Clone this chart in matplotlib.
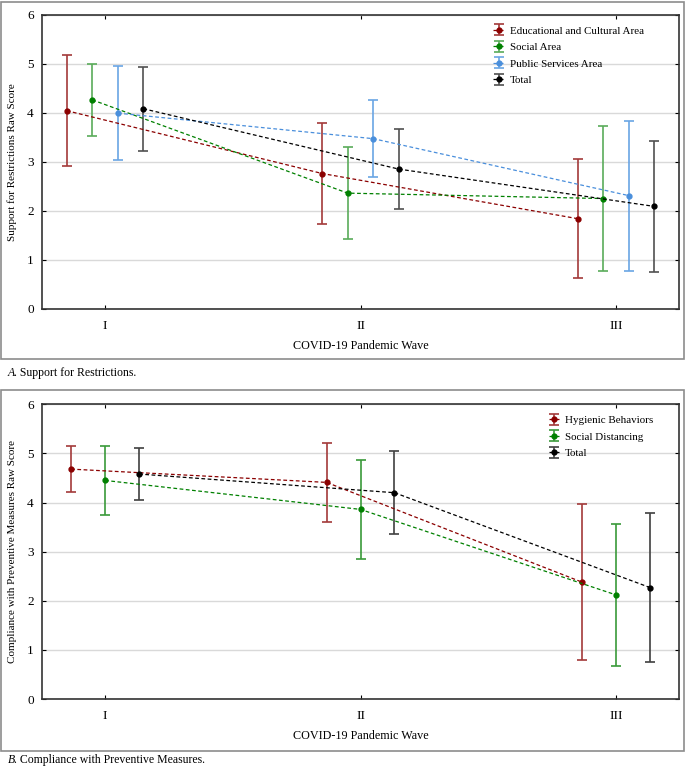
import numpy as np
import matplotlib.pyplot as plt
from matplotlib.patches import Rectangle

plt.rcParams['font.family'] = ['Liberation Serif', 'DejaVu Serif']

waves = ["I", "II", "III"]

# Panel A: support for restrictions (mean, half-width of bar)
edu_mean = [4.04, 2.76, 1.84]
edu_err = [1.13, 1.02, 1.21]
soc_mean = [4.26, 2.36, 2.25]
soc_err = [0.73, 0.94, 1.48]
pub_mean = [3.99, 3.47, 2.31]
pub_err = [0.96, 0.79, 1.53]
tot_a_mean = [4.08, 2.85, 2.09]
tot_a_err = [0.86, 0.81, 1.33]

# Panel B: compliance with preventive measures
hyg_mean = [4.68, 4.41, 2.38]
hyg_err = [0.47, 0.80, 1.59]
dist_mean = [4.45, 3.86, 2.12]
dist_err = [0.71, 1.01, 1.44]
tot_b_mean = [4.58, 4.20, 2.27]
tot_b_err = [0.52, 0.84, 1.51]

series_a = [
    ("Educational and Cultural Area", edu_mean, edu_err, "#8b0000", "#a33a3a", -0.15),
    ("Social Area", soc_mean, soc_err, "#008000", "#5aac5a", -0.05),
    ("Public Services Area", pub_mean, pub_err, "#4a8fdc", "#6aa5e4", 0.05),
    ("Total", tot_a_mean, tot_a_err, "#000000", "#505050", 0.15),
]
series_b = [
    ("Hygienic Behaviors", hyg_mean, hyg_err, "#8b0000", "#a33a3a", -0.133),
    ("Social Distancing", dist_mean, dist_err, "#008000", "#3a9a3a", 0.0),
    ("Total", tot_b_mean, tot_b_err, "#000000", "#404040", 0.133),
]

fig = plt.figure(figsize=(6.85, 7.68), dpi=100)

# panel frames
for y0, h in [(0.532, 0.466), (0.022, 0.470)]:
    fig.patches.append(Rectangle((0.002, y0), 0.996, h, transform=fig.transFigure,
                                 fill=False, edgecolor="#8c8c8c", linewidth=1.2))

ax_a = fig.add_axes([0.0613, 0.5977, 0.930, 0.3834])
ax_b = fig.add_axes([0.0613, 0.0898, 0.930, 0.3838])

def draw(ax, series, ylabel, legend_x):
    x = np.arange(1, 4)
    for name, mean, err, col, ecol, off in series:
        ax.errorbar(x + off, mean, yerr=err, color=col, ecolor=ecol, linestyle=(0, (3, 2)),
                    linewidth=0.9, marker="o", markersize=3.5, capsize=3.5,
                    elinewidth=1.2, capthick=1.2, label=name)
    ax.set_xlim(0.753, 3.247)
    ax.set_ylim(0, 6)
    ax.set_xticks(x)
    ax.set_xticklabels(waves)
    ax.set_yticks(range(0, 7))
    ax.grid(axis="y", color="#d9d9d9", linewidth=1.0)
    ax.set_axisbelow(True)
    ax.tick_params(direction="in", top=True, right=True, labelsize=9.5, length=3)
    ax.tick_params(axis="x", pad=8)
    ax.tick_params(axis="y", pad=6)
    for s in ax.spines.values():
        s.set_color("#333333")
        s.set_linewidth(1.2)
    ax.set_xlabel("COVID-19 Pandemic Wave", fontsize=8.7, labelpad=6)
    ax.set_ylabel(ylabel, fontsize=8, labelpad=7)
    h, l = ax.get_legend_handles_labels()
    ax.legend(h, l, loc="upper left", bbox_to_anchor=(legend_x, 0.995), frameon=False,
              fontsize=7.9, handlelength=1.0, handletextpad=0.5, labelspacing=0.62)

draw(ax_a, series_a, "Support for Restrictions Raw Score", 0.693)
draw(ax_b, series_b, "Compliance with Preventive Measures Raw Score", 0.78)

fig.text(0.011, 0.514, "A", fontsize=8.5, style="italic", va="center")
fig.text(0.021, 0.514, ". Support for Restrictions.", fontsize=8.5, va="center")
fig.text(0.011, 0.010, "B", fontsize=8.5, style="italic", va="center")
fig.text(0.021, 0.010, ". Compliance with Preventive Measures.", fontsize=8.5, va="center")

fig.savefig("out.png", dpi=100)
